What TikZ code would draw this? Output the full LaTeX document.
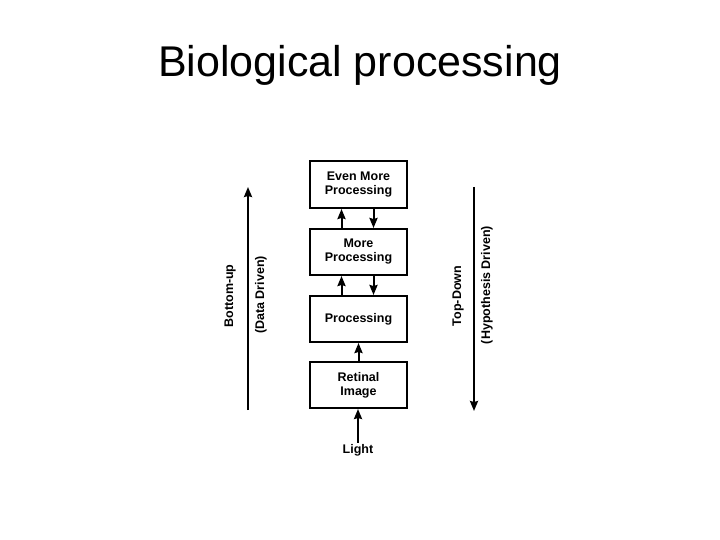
\documentclass[tikz,border=0pt]{standalone}
\usepackage{fontspec}
\setmainfont{Liberation Sans}
\usetikzlibrary{arrows.meta}

\begin{document}
\begin{tikzpicture}[x=1pt, y=-1pt,
        box/.style={draw=black, line width=2pt, minimum width=97pt, minimum height=46pt,
                    align=center, inner sep=0pt, font=\fontsize{12.5}{14}\selectfont\bfseries},
        flow/.style={line width=2pt, -{Stealth[length=10pt, width=8pt, inset=1pt]}},
        lbl/.style={rotate=90, font=\fontsize{12.5}{14}\selectfont\bfseries}]

        % --- Cadre de la page ---
        \useasboundingbox (0, 0) rectangle (720, 540);

        % --- Titre ---
        \node[anchor=base, font=\fontsize{43}{48}\selectfont] (title) at (360, 77) {Biological processing};

        % ==============================================================
        % Pile des boites de traitement
        % ==============================================================
        \node[box, minimum height=47pt] (evenmore) at (358.5, 184.5) {Even More\\Processing};
        \node[box] (more)     at (358.5, 252) {More\\Processing};
        \node[box] (proc)     at (358.5, 319) {Processing};
        \node[box] (retinal)  at (358.5, 385) {Retinal\\Image};
        \node[font=\fontsize{12.5}{14}\selectfont\bfseries, inner sep=1pt] (light) at (358, 450) {Light};

        % Fleches montantes / descendantes entre les boites
        \draw[flow] ([xshift=-17pt]more.north) -- ([xshift=-17pt]evenmore.south);
        \draw[flow] ([xshift=15pt]evenmore.south) -- ([xshift=15pt]more.north);
        \draw[flow] ([xshift=-17pt]proc.north) -- ([xshift=-17pt]more.south);
        \draw[flow] ([xshift=15pt]more.south) -- ([xshift=15pt]proc.north);
        \draw[flow] (retinal.north) -- (proc.south);
        \draw[flow] (light.north) -- (light.north |- retinal.south);

        % ==============================================================
        % Axe gauche : Bottom-up
        % ==============================================================
        \coordinate (bu_bot) at (248, 410);
        \coordinate (bu_top) at (248, 187);
        \draw[flow] (bu_bot) -- (bu_top);
        \node[lbl] (bottomup) at (230, 296) {Bottom-up};
        \node[lbl] (datadrv)  at (261, 295) {(Data Driven)};

        % ==============================================================
        % Axe droit : Top-Down
        % ==============================================================
        \coordinate (td_top) at (474, 187);
        \coordinate (td_bot) at (474, 411);
        \draw[flow] (td_top) -- (td_bot);
        \node[lbl] (topdown) at (458, 296) {Top-Down};
        \node[lbl] (hypdrv)  at (487, 285) {(Hypothesis Driven)};

    \end{tikzpicture}
\end{document}
